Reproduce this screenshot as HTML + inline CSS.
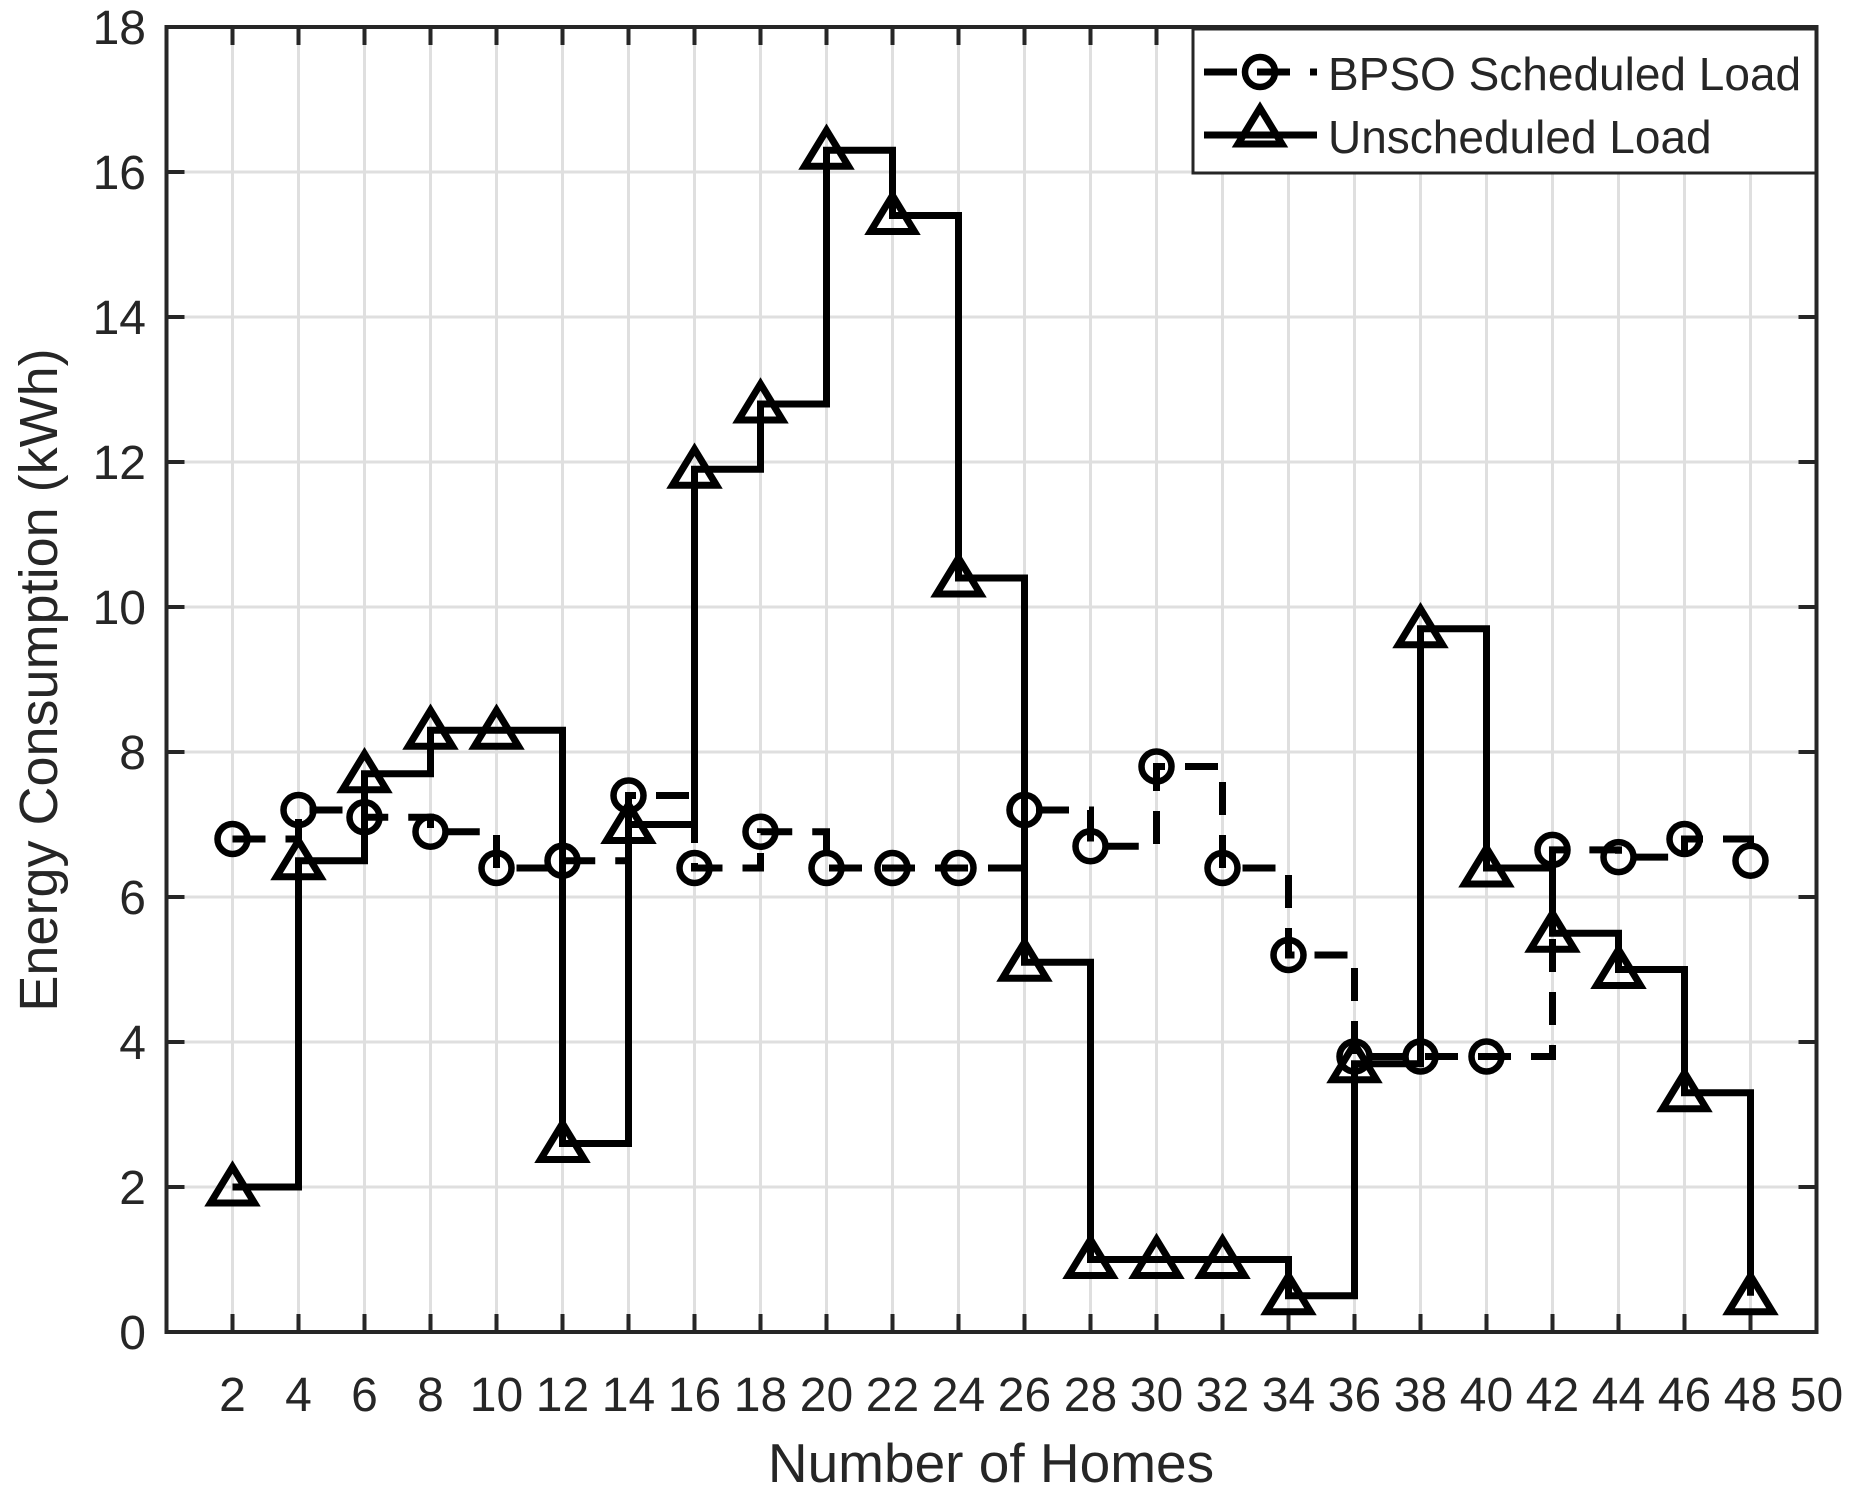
<!DOCTYPE html>
<html><head><meta charset="utf-8"><style>
html,body{margin:0;padding:0;background:#fff}
svg{display:block}
text{font-family:"Liberation Sans",Arial,sans-serif;fill:#262626}
</style></head><body>
<svg id="s" xmlns="http://www.w3.org/2000/svg" width="1857" height="1495" viewBox="0 0 1857 1495">
<rect width="1857" height="1495" fill="#fff"/>
<g id="grid" stroke="#dfdfdf" stroke-width="3"></g>
<g id="ticks" stroke="#262626" stroke-width="4"></g>
<g id="data"></g>
<rect x="166.5" y="27" width="1650" height="1305" fill="none" stroke="#262626" stroke-width="4"/>
<g font-size="48" text-anchor="end">
<text x="146" y="1349">0</text><text x="146" y="1204">2</text><text x="146" y="1059">4</text><text x="146" y="914">6</text><text x="146" y="769">8</text><text x="146" y="624">10</text><text x="146" y="479">12</text><text x="146" y="334">14</text><text x="146" y="189">16</text><text x="146" y="44">18</text>
</g>
<g font-size="48" text-anchor="middle">
<text x="232.5" y="1411">2</text><text x="298.5" y="1411">4</text><text x="364.5" y="1411">6</text><text x="430.5" y="1411">8</text><text x="496.5" y="1411">10</text><text x="562.5" y="1411">12</text><text x="628.5" y="1411">14</text><text x="694.5" y="1411">16</text><text x="760.5" y="1411">18</text><text x="826.5" y="1411">20</text><text x="892.5" y="1411">22</text><text x="958.5" y="1411">24</text><text x="1024.5" y="1411">26</text><text x="1090.5" y="1411">28</text><text x="1156.5" y="1411">30</text><text x="1222.5" y="1411">32</text><text x="1288.5" y="1411">34</text><text x="1354.5" y="1411">36</text><text x="1420.5" y="1411">38</text><text x="1486.5" y="1411">40</text><text x="1552.5" y="1411">42</text><text x="1618.5" y="1411">44</text><text x="1684.5" y="1411">46</text><text x="1750.5" y="1411">48</text><text x="1816.5" y="1411">50</text>
</g>
<text x="991" y="1482" font-size="55" text-anchor="middle">Number of Homes</text>
<text transform="translate(57,680) rotate(-90)" font-size="54" text-anchor="middle">Energy Consumption (kWh)</text>
<rect x="1193" y="29" width="623" height="144" fill="#fff" stroke="#262626" stroke-width="3"/>
<g id="leg"></g>
<text x="1328" y="90" font-size="46" fill="#000">BPSO Scheduled Load</text>
<text x="1328" y="153" font-size="46" fill="#000">Unscheduled Load</text>
</svg>
<script>
var NS="http://www.w3.org/2000/svg";
function px(x){return 166.5+x*33}
function py(y){return 1332-y*72.5}
function el(p,t,a){var e=document.createElementNS(NS,t);for(var k in a)e.setAttribute(k,a[k]);p.appendChild(e);return e}
var grid=document.getElementById('grid'),ticks=document.getElementById('ticks'),data=document.getElementById('data'),leg=document.getElementById('leg');
for(var x=2;x<=48;x+=2){el(grid,'line',{x1:px(x),x2:px(x),y1:27,y2:1332});}
for(var y=2;y<=16;y+=2){el(grid,'line',{x1:166.5,x2:1816.5,y1:py(y),y2:py(y)});}
for(var x=2;x<=48;x+=2){el(ticks,'line',{x1:px(x),x2:px(x),y1:1332,y2:1314});el(ticks,'line',{x1:px(x),x2:px(x),y1:27,y2:45});}
for(var y=2;y<=16;y+=2){el(ticks,'line',{x1:166.5,x2:184.5,y1:py(y),y2:py(y)});el(ticks,'line',{x1:1816.5,x2:1798.5,y1:py(y),y2:py(y)});}
var U=[2,6.5,7.7,8.3,8.3,2.6,7.0,11.9,12.8,16.3,15.4,10.4,5.1,1.0,1.0,1.0,0.5,3.7,9.7,6.4,5.5,5.0,3.3,0.5];
var B=[6.8,7.2,7.1,6.9,6.4,6.5,7.4,6.4,6.9,6.4,6.4,6.4,7.2,6.7,7.8,6.4,5.2,3.8,3.8,3.8,6.65,6.55,6.8,6.5];
function stairs(v){var d='M'+px(2)+' '+py(v[0]);for(var i=1;i<v.length;i++){d+=' H'+px(2+2*i)+' V'+py(v[i]);}return d}
el(data,'path',{d:stairs(B),fill:'none',stroke:'#000','stroke-width':7,'stroke-dasharray':'33 20'});
el(data,'path',{d:stairs(U),fill:'none',stroke:'#000','stroke-width':7});
function circ(p,cx,cy){el(p,'circle',{cx:cx,cy:cy,r:15,fill:'none',stroke:'#000','stroke-width':6.5});}
function tri(p,cx,cy){el(p,'path',{d:'M'+(cx-22)+' '+(cy+16)+' L'+(cx+22)+' '+(cy+16)+' L'+cx+' '+(cy-20)+' Z',fill:'none',stroke:'#000','stroke-width':7,'stroke-linejoin':'miter'});}
for(var i=0;i<B.length;i++)circ(data,px(2+2*i),py(B[i]));
for(var i=0;i<U.length;i++)tri(data,px(2+2*i),py(U[i]));
el(leg,'path',{d:'M1204 72 H1317',stroke:'#000','stroke-width':7,'stroke-dasharray':'33 20'});
circ(leg,1260,72);
el(leg,'line',{x1:1204,x2:1317,y1:135,y2:135,stroke:'#000','stroke-width':7});
tri(leg,1260,128);
</script>
</body></html>
